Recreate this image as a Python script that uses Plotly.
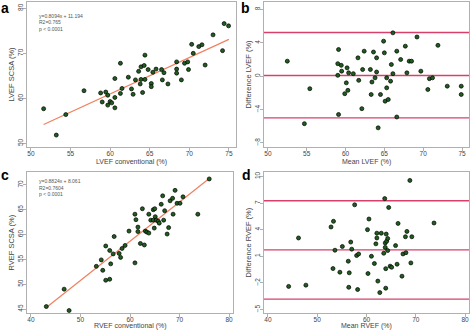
import plotly.graph_objects as go

# ---------------- data ----------------
# Panel a: LVEF conventional vs SCSA
lvef_conv = [51.6, 53.2, 54.4, 56.7, 58.8, 59.0, 59.45, 59.7, 59.7, 60.0, 60.2, 60.6, 60.6, 60.6,
             61.3, 61.3, 61.5, 62.3, 62.7, 62.9, 63.2, 63.6, 63.8, 63.9, 63.9, 64.1, 64.3, 64.4,
             64.4, 64.8, 65.2, 65.2, 65.4, 65.8, 66.5, 66.6, 66.8, 67.3, 68.4, 68.4, 68.4, 69.0,
             69.4, 69.8, 69.9, 70.3, 70.5, 71.2, 71.6, 72.0, 73.0, 74.2, 74.4, 74.96]
lvef_scsa = [57.7, 51.85, 56.4, 61.7, 61.2, 59.2, 61.4, 60.7, 58.5, 59.3, 59.0, 60.2, 57.9, 64.4,
             67.8, 61.1, 62.2, 64.7, 62.1, 60.9, 64.1, 66.0, 63.2, 67.0, 64.2, 61.3, 67.3, 69.6,
             64.2, 66.4, 63.3, 62.6, 65.8, 66.5, 66.4, 64.1, 65.7, 63.2, 68.1, 66.5, 65.6, 64.1,
             67.8, 68.1, 66.4, 72.0, 70.0, 71.5, 71.9, 67.4, 74.1, 70.6, 76.6, 76.1]
fit_a_x = [51.6, 75.0]
fit_a_y = [54.2, 73.1]
stats_a = ["y=0.8094x + 11.194", "R2=0.765", "p < 0.0001"]

# Panel b: Bland-Altman LVEF
lvef_mean = [52.5, 55.4, 54.7, 59.0, 59.1, 59.45, 59.5, 59.0, 59.1, 60.2, 60.4, 60.1, 60.3, 59.9,
             61.0, 61.6, 61.7, 62.2, 62.4, 62.1, 63.2, 63.3, 63.4, 63.6, 63.8, 64.0, 64.0, 64.2,
             64.5, 64.9, 65.0, 65.1, 65.3, 65.3, 65.5, 65.8, 65.9, 66.1, 66.1, 66.6, 66.6, 67.1,
             67.7, 67.9, 68.2, 68.5, 69.2, 69.7, 70.6, 70.8, 71.2, 71.9, 73.1, 74.9, 74.9]
lvef_diff = [1.8, -1.5, -5.7, 1.5, 3.2, 1.3, 0.6, 0.1, -4.6, 1.0, 0.4, -0.8, -1.7, -2.1,
             0.3, 2.2, -0.5, 0.8, 3.0, -3.9, 0.8, -2.2, -0.7, 2.9, -0.2, 2.2, 0.5, -6.2,
             -2.2, 4.2, 2.8, -3.0, -1.4, -0.2, -2.8, -0.6, 1.4, 5.2, 0.3, 3.0, -4.9, 2.0,
             3.6, 0.4, 1.8, 1.8, 4.7, 0.6, -1.6, -0.3, -0.2, 3.7, -1.2, -1.2, -2.2]
loa_b = [5.24, 0.08, -5.0]

# Panel c: RVEF conventional vs SCSA
rvef_conv = [43.1, 46.7, 47.7, 53.2, 54.2, 54.5, 55.1, 55.1, 55.9, 55.9, 56.1, 56.6, 56.8, 57.8,
             58.1, 58.4, 59.0, 59.8, 61.0, 61.0, 61.2, 61.6, 61.6, 62.1, 62.5, 62.9, 63.1, 63.4,
             63.8, 63.8, 64.2, 64.7, 64.7, 64.9, 65.0, 65.1, 65.3, 65.7, 65.9, 66.3, 66.6, 66.8,
             67.0, 67.5, 67.8, 68.1, 68.6, 68.7, 69.1, 69.5, 70.1, 70.7, 73.7, 76.0]
rvef_scsa = [45.5, 49.0, 44.7, 53.6, 54.9, 52.8, 57.7, 50.8, 56.8, 51.0, 54.1, 56.1, 59.6, 56.2,
             55.4, 57.2, 57.8, 60.7, 64.1, 54.3, 63.0, 61.5, 60.6, 58.2, 65.2, 57.9, 60.7, 60.5,
             60.3, 64.1, 62.9, 62.9, 65.0, 61.3, 65.2, 63.6, 62.9, 62.7, 62.3, 66.1, 67.8, 62.9,
             64.8, 60.1, 61.4, 66.8, 67.3, 64.1, 68.9, 66.3, 66.3, 67.6, 64.1, 71.2]
fit_c_x = [43.1, 76.0]
fit_c_y = [45.3, 71.3]
stats_c = ["y=0.8824x + 8.061", "R2=0.7604", "p < 0.0001"]

# Panel d: Bland-Altman RVEF
rvef_mean = [44.2, 46.2, 47.7, 52.8, 53.3, 53.2, 53.6, 54.6, 55.1, 56.3, 56.5, 56.4, 56.8, 57.0,
             57.6, 58.0, 58.4, 58.2, 60.2, 60.3, 60.5, 61.0, 61.6, 61.9, 62.1, 62.1, 62.3, 62.7,
             63.0, 63.5, 63.7, 63.8, 63.8, 63.9, 63.9, 64.0, 64.1, 64.3, 64.3, 64.5, 64.8, 65.1,
             65.9, 66.2, 66.4, 67.2, 67.4, 68.0, 67.9, 68.2, 69.0, 69.2, 68.8, 73.7]
rvef_diff = [-2.4, 3.06, -2.26, 4.3, 4.94, -0.39, 1.68, -0.8, 2.1, 0.44, -0.87, -2.5, 2.6, 1.8,
             6.8, 1.08, 1.26, -2.75, 4.0, -0.95, 5.2, 1.0, 0.18, 2.4, 3.06, 3.6, -1.8, -3.1,
             3.6, 1.34, 7.5, 2.5, 2.0, -0.4, -2.6, 3.5, 2.7, 3.0, 1.64, 6.5, -0.12, -0.24,
             2.2, 0.1, 4.7, -1.25, 1.26, 1.4, 3.2, 3.8, 0.25, 3.2, 9.55, 4.75]
loa_d = [7.26, 1.72, -3.84]

titles = {
    "a": ("LVEF conventional (%)", "LVEF SCSA (%)"),
    "b": ("Mean LVEF (%)", "Difference LVEF (%)"),
    "c": ("RVEF conventional (%)", "RVEF SCSA (%)"),
    "d": ("Mean RVEF (%)", "Difference RVEF (%)"),
}

# ---------------- styling ----------------
W, H = 474, 330
FONT = "Liberation Sans, Arial, sans-serif"
PT_COLOR = "#1f5e1f"
FIT_COLOR = "#f08060"
LOA_COLOR = "#d8406a"
LINE_GRAY = "#b0b0b0"
TXT = "#444444"

def px(x):
    return x / W

def py(y):
    return 1 - y / H

dom = {
    "a": ([px(27), px(236)], [py(147), py(2)]),
    "b": ([px(264), px(469)], [py(147), py(2)]),
    "c": ([px(27), px(233)], [py(313), py(172)]),
    "d": ([px(264), px(469)], [py(313), py(172)]),
}
rng = {
    "a": ([49.5, 75.9], [49.2, 81.4], [50, 55, 60, 65, 70, 75], [50, 60, 70, 80]),
    "b": ([49.5, 75.9], [-8.5, 8.9], [50, 55, 60, 65, 70, 75], [-8, -4, 0, 4, 8]),
    "c": ([39.2, 80.8], [44.2, 72.6], [40, 50, 60, 70, 80], [45, 50, 55, 60, 65, 70]),
    "d": ([39.2, 80.8], [-5.4, 10.5], [40, 50, 60, 70, 80], [-5, -2, 1, 4, 7, 10]),
}

fig = go.Figure()
axis_ids = {"a": ("x", "y"), "b": ("x2", "y2"), "c": ("x3", "y3"), "d": ("x4", "y4")}

marker = dict(color=PT_COLOR, size=4, line=dict(color="black", width=0.7))

fig.add_trace(go.Scatter(x=fit_a_x, y=fit_a_y, mode="lines", line=dict(color=FIT_COLOR, width=1.2),
                         xaxis="x", yaxis="y", hoverinfo="skip"))
fig.add_trace(go.Scatter(x=lvef_conv, y=lvef_scsa, mode="markers", marker=marker, xaxis="x", yaxis="y"))

for v in loa_b:
    fig.add_trace(go.Scatter(x=rng["b"][0], y=[v, v], mode="lines", line=dict(color=LOA_COLOR, width=1.3),
                             xaxis="x2", yaxis="y2", hoverinfo="skip"))
fig.add_trace(go.Scatter(x=lvef_mean, y=lvef_diff, mode="markers", marker=marker, xaxis="x2", yaxis="y2"))

fig.add_trace(go.Scatter(x=fit_c_x, y=fit_c_y, mode="lines", line=dict(color=FIT_COLOR, width=1.2),
                         xaxis="x3", yaxis="y3", hoverinfo="skip"))
fig.add_trace(go.Scatter(x=rvef_conv, y=rvef_scsa, mode="markers", marker=marker, xaxis="x3", yaxis="y3"))

for v in loa_d:
    fig.add_trace(go.Scatter(x=rng["d"][0], y=[v, v], mode="lines", line=dict(color=LOA_COLOR, width=1.3),
                             xaxis="x4", yaxis="y4", hoverinfo="skip"))
fig.add_trace(go.Scatter(x=rvef_mean, y=rvef_diff, mode="markers", marker=marker, xaxis="x4", yaxis="y4"))

layout = dict(
    width=W, height=H, margin=dict(l=0, r=0, t=0, b=0),
    paper_bgcolor="white", plot_bgcolor="white", showlegend=False,
    font=dict(family=FONT, color=TXT),
)
annotations = []
for k in "abcd":
    xa, ya = axis_ids[k]
    xname = "xaxis" + xa[1:]
    yname = "yaxis" + ya[1:]
    xr, yr, xt, yt = rng[k]
    layout[xname] = dict(domain=dom[k][0], range=xr, tickvals=xt, anchor=ya, showgrid=False, zeroline=False,
                         showline=True, mirror=True, linecolor=LINE_GRAY, linewidth=1,
                         ticks="outside", ticklen=3, tickcolor=LINE_GRAY, ticklabelstandoff=-3,
                         automargin=False,
                         tickfont=dict(size=6.5, color=TXT, family=FONT))
    layout[yname] = dict(domain=dom[k][1], range=yr, tickvals=yt, anchor=xa, showgrid=False, zeroline=False,
                         showline=True, mirror=True, linecolor=LINE_GRAY, linewidth=1,
                         ticks="outside", ticklen=3, tickcolor=LINE_GRAY, tickangle=-90,
                         ticklabelstandoff=-3, automargin=False,
                         tickfont=dict(size=6.5, color=TXT, family=FONT))
    xd, yd = dom[k]
    tx, ty = titles[k]
    x_title_py = 162 if k in "ab" else 325.8
    annotations.append(dict(text=tx, xref="paper", yref="paper", x=(xd[0] + xd[1]) / 2, y=py(x_title_py),
                            showarrow=False, font=dict(size=7, color=TXT, family=FONT),
                            xanchor="center", yanchor="middle"))
    y_title_px = 11 if k in "ac" else 248
    annotations.append(dict(text=ty, xref="paper", yref="paper", x=px(y_title_px), y=(yd[0] + yd[1]) / 2,
                            showarrow=False, textangle=-90, font=dict(size=7.5, color=TXT, family=FONT),
                            xanchor="center", yanchor="middle"))

for k, (lx, ly) in {"a": (5, 8), "b": (245, 8), "c": (5, 175), "d": (246, 175)}.items():
    annotations.append(dict(text="<b>%s</b>" % k, xref="paper", yref="paper", x=px(lx), y=py(ly),
                            showarrow=False, xanchor="center", yanchor="middle",
                            font=dict(size=14, color="black", family=FONT)))

for lines, top in ((stats_a, 16), (stats_c, 181)):
    for i, t in enumerate(lines):
        annotations.append(dict(text=t, xref="paper", yref="paper", x=px(37), y=py(top + i * 6.5),
                                showarrow=False, xanchor="left", yanchor="middle",
                                font=dict(size=5, color="#555555", family=FONT)))

layout["annotations"] = annotations
fig.update_layout(**layout)
fig.write_html("out.html")
